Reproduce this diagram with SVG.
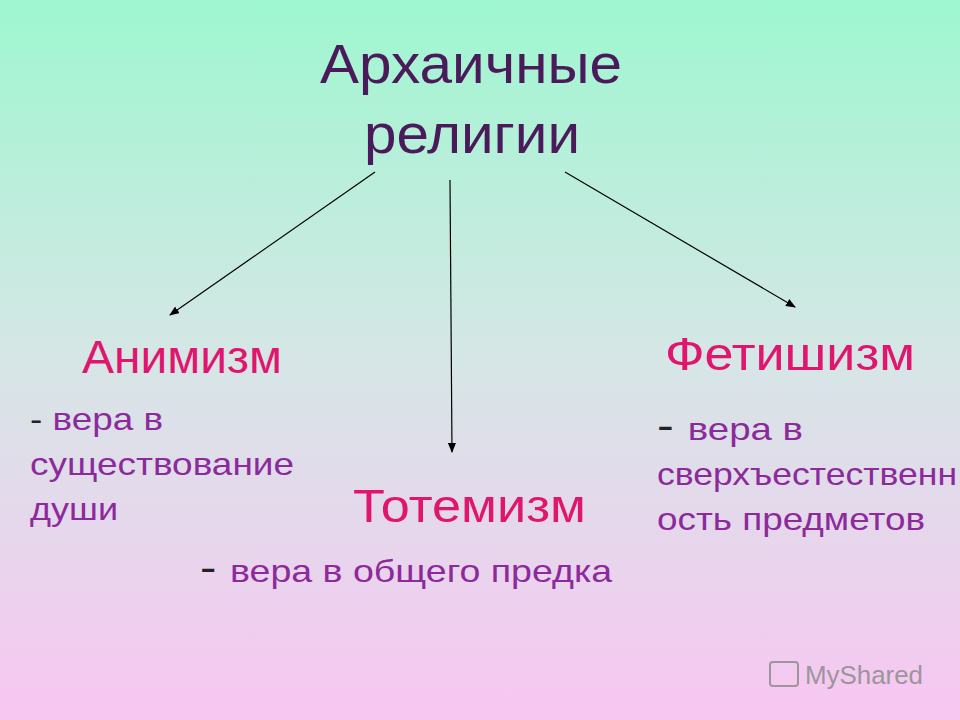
<svg xmlns="http://www.w3.org/2000/svg" width="960" height="720" viewBox="0 0 960 720">
<defs>
<linearGradient id="bg" x1="0" y1="0" x2="0" y2="1">
<stop offset="0" stop-color="#9ef7d0"/>
<stop offset="0.5" stop-color="#d6e6e6"/>
<stop offset="1" stop-color="#f8c6f2"/>
</linearGradient>
<marker id="ah" markerWidth="10" markerHeight="8" refX="9" refY="4" orient="auto" markerUnits="userSpaceOnUse">
<path d="M0,0 L10,4 L0,8 Z" fill="#000"/>
</marker>
<style>
text{font-family:"Liberation Sans",Arial,sans-serif}
.t{fill:#4a1a5a;font-size:56px}
.h{fill:#e0156e;font-size:46px}
.d{fill:#8c2a9c;font-size:32px}
.k{fill:#222}
line{stroke:#000;stroke-width:1.2;marker-end:url(#ah)}
</style>
</defs>
<rect width="960" height="720" fill="url(#bg)"/>
<g id="title"><text class="t" x="320" y="83" textLength="302" lengthAdjust="spacingAndGlyphs">Архаичные</text><text class="t" x="364" y="153" textLength="216" lengthAdjust="spacingAndGlyphs">религии</text></g>
<g id="connectors">
<line x1="375" y1="172" x2="170" y2="315"/>
<line x1="450" y1="180" x2="452" y2="452"/>
<line x1="565" y1="172" x2="795" y2="307"/>
</g>
<g id="animism"><text class="h" x="82" y="373" textLength="200" lengthAdjust="spacingAndGlyphs">Анимизм</text>
<text class="d" x="30" y="430" textLength="133" lengthAdjust="spacingAndGlyphs"><tspan class="k">- </tspan>вера в</text>
<text class="d" x="30" y="475" textLength="264" lengthAdjust="spacingAndGlyphs">существование</text>
<text class="d" x="30" y="520" textLength="88" lengthAdjust="spacingAndGlyphs">души</text></g>
<g id="totemism"><text class="h" x="353" y="522" textLength="233" lengthAdjust="spacingAndGlyphs">Тотемизм</text>
<text class="d" x="200" y="582" textLength="412" lengthAdjust="spacingAndGlyphs"><tspan class="k" font-size="42">- </tspan>вера в общего предка</text></g>
<g id="fetishism"><text class="h" x="665" y="370" textLength="250" lengthAdjust="spacingAndGlyphs">Фетишизм</text>
<text class="d" x="657" y="440" textLength="146" lengthAdjust="spacingAndGlyphs"><tspan class="k" font-size="42">- </tspan>вера в</text>
<text class="d" x="657" y="485" textLength="300" lengthAdjust="spacingAndGlyphs">сверхъестественн</text>
<text class="d" x="657" y="530" textLength="268" lengthAdjust="spacingAndGlyphs">ость предметов</text></g>
<g id="wm"><text x="805" y="684" font-size="26" fill="#888" opacity="0.8" textLength="118" lengthAdjust="spacingAndGlyphs">MyShared</text><rect x="770" y="662" width="28" height="24" rx="3" fill="none" stroke="#888" stroke-width="2" opacity="0.8"/></g>
</svg>
